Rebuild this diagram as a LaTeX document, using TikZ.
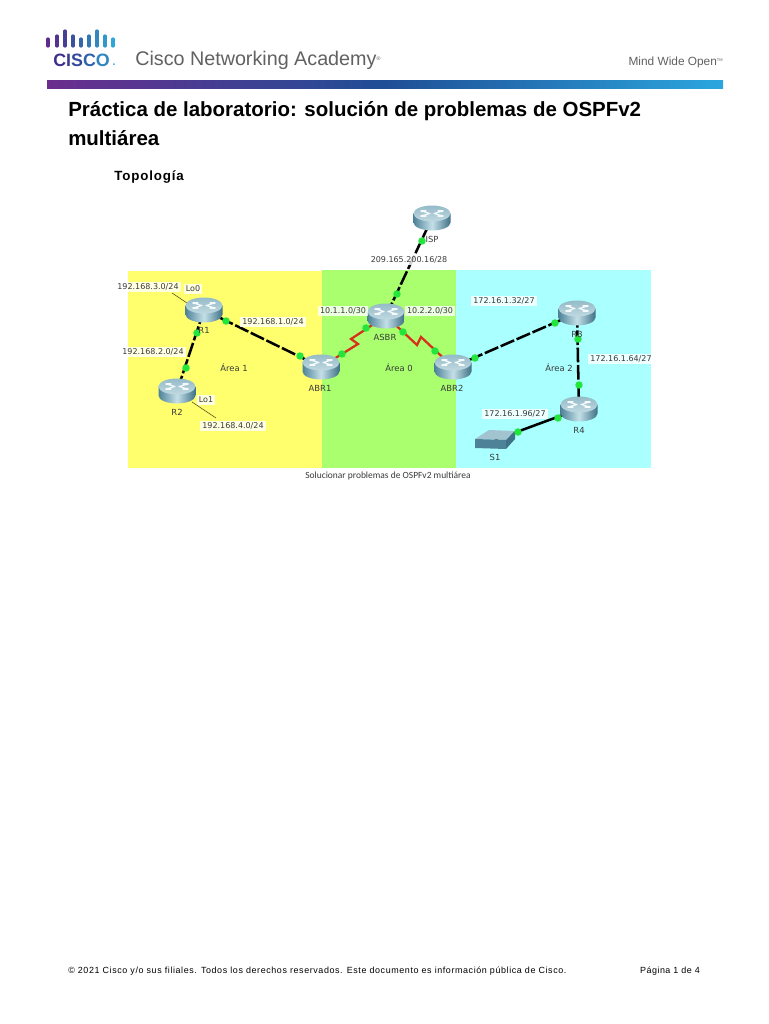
\documentclass[tikz,border=0pt]{standalone}
\usepackage{fontspec}
\setmainfont{Liberation Sans}
\newfontfamily\lblfont{DejaVu Sans}
\newfontfamily\capfont{Carlito}
\usetikzlibrary{shapes.geometric}
\definecolor{areaY}{HTML}{FFFF6E}
\definecolor{areaG}{HTML}{A9FF6E}
\definecolor{areaC}{HTML}{AAFFFF}
\definecolor{dotG}{HTML}{22E63C}
\definecolor{serialR}{HTML}{D8301A}
\definecolor{txt}{HTML}{3A3A3A}
\definecolor{rA}{HTML}{4E8298}
\definecolor{rB}{HTML}{C4E0E8}
\definecolor{rC}{HTML}{3F7086}
\definecolor{rT}{HTML}{A5C9D4}
\definecolor{barL}{HTML}{6B2D8E}
\definecolor{barM}{HTML}{1F4E96}
\definecolor{barR}{HTML}{2BA6DE}
\tikzset{
  rtr/.style={inner sep=0pt,minimum size=0pt,outer sep=0pt},
  ethlink/.style={draw=black,line width=1.9pt,dash pattern=on 11pt off 2pt},
  solidlink/.style={draw=black,line width=1.9pt},
  seriallink/.style={draw=serialR,line width=1.7pt},
  lodot/.style={circle,fill=dotG,inner sep=0pt,minimum size=5.6pt},
  iplabel/.style={font=\lblfont\fontsize{6}{7}\selectfont,text=txt,fill=white,fill opacity=.8,text opacity=1,inner xsep=1.5pt,inner ysep=1.5pt},
  devlabel/.style={font=\lblfont\fontsize{6.3}{7}\selectfont,text=txt,inner sep=0pt},
  lothin/.style={draw=black!65!areaY,line width=.5pt},
  routerpic/.pic={
    \path[left color=rA,right color=rC,middle color=rB]
      (-18.5,-4.5) -- (-18.5,4.5) arc[x radius=18.5,y radius=8,start angle=180,end angle=0] -- (18.5,-4.5) -- cycle;
    \path[top color=rT!80!rA,bottom color=rT!70!white]
      (0,-4.5) ellipse[x radius=18.5,y radius=8];
    \draw[white!85!rB,line width=.8pt,line cap=round] (-11,-7) -- (-2,-4.5) (2,-4.5) -- (11,-2) (-11,-2)--(-2,-4.5) (2,-4.5)--(11,-7);
    \draw[white!85!rB,line width=.8pt,line cap=round] (-11,-7) -- (-6,-7) (11,-2)--(6,-2) (11,-7)--(6,-7) (-11,-2)--(-6,-2);
  },
  logobar/.style={line width=2.4pt,line cap=round}
}
\begin{document}
\begin{tikzpicture}[x=0.75pt,y=-0.75pt]
\useasboundingbox (0,0) rectangle (768,1024);
\fill[white] (0,0) rectangle (768,1024);
% logo
\foreach \x/\t/\c in {48/39/5E2D8C,57/36/52338F,65/31/464094,73/36/3A529E,81/39/3566A8,89/36/3278B2,97/31/3088BE,105/36/2F98CC,113/39/2EA6DA}{
  \definecolor{cc}{HTML}{\c}
  \draw[logobar,cc] (\x,46) -- (\x,\t);
}
\node[anchor=base west,inner sep=0pt,font=\bfseries\fontsize{13.4}{15}\selectfont\addfontfeature{LetterSpace=9}] (cisco) at (53,67) {\textcolor[HTML]{3E2F8C}{C}\textcolor[HTML]{3A3A92}{I}\textcolor[HTML]{334A9C}{S}\textcolor[HTML]{2F62AC}{C}\textcolor[HTML]{2E86C1}{O}};
\node[inner sep=0pt,text=barR,font=\bfseries\fontsize{8}{8}\selectfont] (ciscodot) at (114,65) {.};
\node[anchor=base west,inner sep=0pt,text=black!62,font=\fontsize{14.8}{16}\selectfont] (academy) at (135,66) {Cisco Networking Academy\raisebox{4pt}{\fontsize{4}{4}\selectfont\textregistered}};
\node[anchor=base east,inner sep=0pt,text=black!62,font=\fontsize{8.9}{9}\selectfont] (mwo) at (723,66) {Mind Wide Open\raisebox{3pt}{\fontsize{3}{3}\selectfont TM}};
\path[left color=barL,right color=barM] (47,81) rectangle (385.5,88.5);
\path[left color=barM,right color=barR] (385,81) rectangle (723,88.5);
% headings
\node[anchor=base west,inner sep=0pt,font=\bfseries\fontsize{15.35}{16}\selectfont] (title1) at (68,117) {Práctica de laboratorio: solución de problemas de OSPFv2};
\node[anchor=base west,inner sep=0pt,font=\bfseries\fontsize{15.35}{16}\selectfont] (title2) at (68,145) {multiárea};
\node[anchor=base west,inner sep=0pt,font=\bfseries\fontsize{10}{11}\selectfont\addfontfeature{LetterSpace=6.5}] (topo) at (114,180) {Topología};
% areas
\fill[areaY] (128,271) rectangle (322,468);
\fill[areaG] (322,270) rectangle (456,468);
\fill[areaC] (456,270) rectangle (651,468);
% device anchors
\node[rtr] (R1) at (204,310) {};
\node[rtr] (R2) at (177,391) {};
\node[rtr] (ABR1) at (321,367) {};
\node[rtr] (ASBR) at (386,316) {};
\node[rtr] (ISP) at (432,218) {};
\node[rtr] (ABR2) at (453,367) {};
\node[rtr] (R3) at (577,313) {};
\node[rtr] (R4) at (579,409) {};
\node[rtr] (S1) at (495,440) {};
\coordinate (zA1) at (358,344);
\coordinate (zA2) at (351,339);
\coordinate (zB1) at (417,345);
\coordinate (zB2) at (421,337);
\coordinate (lo0a) at (172,293);
\coordinate (lo0b) at (190,305);
\coordinate (lo1a) at (192,402);
\coordinate (lo1b) at (216,418);
% connectors
\draw[lothin] (lo0a) -- (lo0b);
\draw[lothin] (lo1a) -- (lo1b);
\draw[ethlink] (R1) -- (R2);
\draw[ethlink] (R1) -- (ABR1);
\draw[ethlink] (ASBR) -- (ISP);
\draw[ethlink] (ABR2) -- (R3);
\draw[ethlink] (R3) -- (R4);
\draw[solidlink] (R4) -- (S1);
\draw[seriallink] (ABR1) -- (zA1) -- (zA2) -- (ASBR);
\draw[seriallink] (ASBR) -- (zB1) -- (zB2) -- (ABR2);
% devices
\foreach \n in {R1,R2,ABR1,ASBR,ISP,ABR2,R3,R4} {\pic at (\n) {routerpic};}
\fill[fill=rB!70!rA] (475,439) -- (489,430) -- (515,431) -- (506,440) -- cycle;
\fill[fill=rA] (475,439) -- (506,440) -- (506,449) -- (475,448) -- cycle;
\fill[fill=rC] (506,440) -- (515,431) -- (515,439) -- (506,449) -- cycle;
% status lights
\node[lodot] (d1) at (226,321) {};
\node[lodot] (d2) at (300,356) {};
\node[lodot] (d3) at (197,333) {};
\node[lodot] (d4) at (186,368) {};
\node[lodot] (d5) at (342,354) {};
\node[lodot] (d6) at (366,328) {};
\node[lodot] (d7) at (422,241) {};
\node[lodot] (d8) at (397,294) {};
\node[lodot] (d9) at (403,332) {};
\node[lodot] (d10) at (435,351) {};
\node[lodot] (d11) at (475,358) {};
\node[lodot] (d12) at (555,323) {};
\node[lodot] (d13) at (578,339) {};
\node[lodot] (d14) at (579,385) {};
\node[lodot] (d15) at (558,418) {};
\node[lodot] (d16) at (518,432) {};
% labels
\node[iplabel] (n3) at (148,287) {192.168.3.0/24};
\node[iplabel] (nlo0) at (193,289) {Lo0};
\node[iplabel] (n1) at (273,322) {192.168.1.0/24};
\node[iplabel] (n2) at (153,352) {192.168.2.0/24};
\node[iplabel] (nlo1) at (206,400) {Lo1};
\node[iplabel] (n4) at (233,426) {192.168.4.0/24};
\node[iplabel] (n10) at (343,311) {10.1.1.0/30};
\node[iplabel] (n209) at (409,260) {209.165.200.16/28};
\node[iplabel] (n102) at (430,311) {10.2.2.0/30};
\node[iplabel] (n32) at (504,301) {172.16.1.32/27};
\node[iplabel] (n64) at (621,359) {172.16.1.64/27};
\node[iplabel] (n96) at (515,414) {172.16.1.96/27};
\node[devlabel] (lR1) at (204,330) {R1};
\node[devlabel] (lR2) at (177,412) {R2};
\node[devlabel] (lABR1) at (320,388) {ABR1};
\node[devlabel] (lASBR) at (385,337) {ASBR};
\node[devlabel] (lISP) at (432,239) {ISP};
\node[devlabel] (lABR2) at (452,388) {ABR2};
\node[devlabel] (lR3) at (577,334) {R3};
\node[devlabel] (lR4) at (579,430) {R4};
\node[devlabel] (lS1) at (495,457) {S1};
\node[devlabel] (a1) at (234,368) {Área 1};
\node[devlabel] (a0) at (399,368) {Área 0};
\node[devlabel] (a2) at (559,368) {Área 2};
\node[inner sep=0pt,text=txt,font=\capfont\fontsize{7.1}{7}\selectfont] (caption) at (388,476) {Solucionar problemas de OSPFv2 multiárea};
% footer
\node[anchor=base west,inner sep=0pt,font=\fontsize{6.7}{7}\selectfont\addfontfeature{LetterSpace=6.7}] (foot) at (68,973) {© 2021 Cisco y/o sus filiales. Todos los derechos reservados. Este documento es información pública de Cisco.};
\node[anchor=base east,inner sep=0pt,font=\fontsize{6.7}{7}\selectfont\addfontfeature{LetterSpace=5.5}] (page) at (700,973) {Página 1 de 4};
\end{tikzpicture}
\end{document}
